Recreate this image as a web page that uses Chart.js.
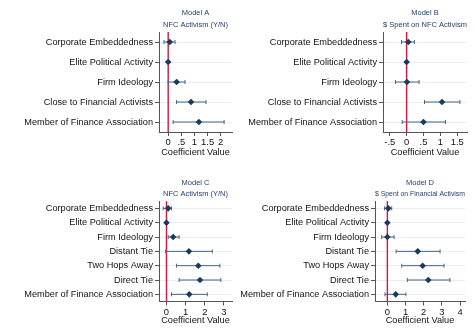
<!DOCTYPE html>
<html>
<head>
<meta charset="utf-8">
<script src="https://cdn.jsdelivr.net/npm/chart.js@4.4.0/dist/chart.umd.min.js"></script>
<style>
  html, body { margin: 0; padding: 0; background: #fff; }
  #wrap { position: relative; width: 474px; height: 335px; overflow: hidden; }
  canvas { position: absolute; }
</style>
</head>
<body>
<div id="wrap">
  <canvas id="chartA" width="237" height="167" style="left:0;top:0"></canvas>
  <canvas id="chartB" width="237" height="167" style="left:237px;top:0"></canvas>
  <canvas id="chartC" width="237" height="168" style="left:0;top:167px"></canvas>
  <canvas id="chartD" width="237" height="168" style="left:237px;top:167px"></canvas>
</div>
<script>
// categories
const catsTop = ['Corporate Embeddedness', 'Elite Political Activity', 'Firm Ideology',
  'Close to Financial Activists', 'Member of Finance Association'];
const catsBottom = ['Corporate Embeddedness', 'Elite Political Activity', 'Firm Ideology',
  'Distant Tie', 'Two Hops Away', 'Direct Tie', 'Member of Finance Association'];

// Model A - NFC Activism (Y/N)
const coefA = [0.06, 0.00, 0.32, 0.87, 1.17];
const loA   = [-0.16, -0.03, 0.00, 0.32, 0.19];
const hiA   = [0.26, 0.03, 0.64, 1.44, 2.13];

// Model B - $ Spent on NFC Activism
const coefB = [0.05, 0.00, 0.01, 1.05, 0.50];
const loB   = [-0.15, -0.03, -0.33, 0.53, -0.13];
const hiB   = [0.23, 0.03, 0.37, 1.58, 1.15];

// Model C - NFC Activism (Y/N)
const coefC = [0.09, 0.00, 0.35, 1.17, 1.66, 1.75, 1.19];
const loC   = [-0.17, -0.03, 0.09, -0.04, 0.52, 0.66, 0.26];
const hiC   = [0.26, 0.03, 0.66, 2.39, 2.79, 2.84, 2.13];

// Model D - $ Spent on Financial Activism
const coefD = [0.05, 0.00, 0.00, 1.67, 1.94, 2.25, 0.46];
const loD   = [-0.16, -0.03, -0.31, 0.48, 0.79, 1.10, -0.13];
const hiD   = [0.24, 0.03, 0.37, 2.90, 3.12, 3.44, 1.02];

// x tick values and labels
const ticksA = [0, 0.5, 1, 1.5, 2];
const tickLabelsA = ['0', '.5', '1', '1.5', '2'];
const ticksB = [-0.5, 0, 0.5, 1, 1.5];
const tickLabelsB = ['-.5', '0', '.5', '1', '1.5'];
const ticksC = [0, 1, 2, 3];
const tickLabelsC = ['0', '1', '2', '3'];
const ticksD = [0, 1, 2, 3, 4];
const tickLabelsD = ['0', '1', '2', '3', '4'];

const FONT = "'Liberation Sans', Arial, Helvetica, sans-serif";
const MARK = '#1b3a5c';
const CI_COLOR = '#48647f';
const TITLE_COLOR = '#2a4068';

// red reference line at x = 0
const zeroLine = {
  id: 'zeroLine',
  beforeDatasetsDraw(chart) {
    const { ctx, chartArea, scales: { x } } = chart;
    const px = x.getPixelForValue(0);
    ctx.save();
    ctx.strokeStyle = '#d4163e';
    ctx.lineWidth = 1.4;
    ctx.beginPath();
    ctx.moveTo(px, chartArea.top);
    ctx.lineTo(px, chartArea.bottom);
    ctx.stroke();
    ctx.restore();
  }
};

function makeChart(id, opts) {
  const { cats, coef, lo, hi, min, max, ticks, tickLabels, title, subtitle, lay } = opts;

  const ciSets = cats.map((c, i) => ({
    data: [{ x: lo[i], y: c }, { x: hi[i], y: c }],
    showLine: true,
    borderColor: CI_COLOR,
    borderWidth: 1,
    pointStyle: 'line',
    rotation: 90,
    pointRadius: 2,
    pointHoverRadius: 2,
    pointBorderColor: CI_COLOR,
    pointBorderWidth: 1,
    order: 2
  }));

  const pointSet = {
    data: cats.map((c, i) => ({ x: coef[i], y: c })),
    pointStyle: 'rectRot',
    pointRadius: 3.3,
    pointHoverRadius: 3.3,
    backgroundColor: MARK,
    borderColor: MARK,
    borderWidth: 0,
    order: 1
  };

  return new Chart(document.getElementById(id), {
    type: 'scatter',
    data: { datasets: [pointSet, ...ciSets] },
    plugins: [zeroLine],
    options: {
      responsive: false,
      animation: false,
      layout: { padding: { left: 0, right: lay.padRight, top: 0, bottom: 0 } },
      plugins: {
        legend: { display: false },
        tooltip: { enabled: false },
        title: {
          display: true, text: title, fullSize: false, color: TITLE_COLOR,
          font: { family: FONT, size: 7.5, weight: 'normal' },
          padding: { top: lay.t1, bottom: lay.b1 }
        },
        subtitle: {
          display: true, text: subtitle, fullSize: false, color: TITLE_COLOR,
          font: { family: FONT, size: 7.5, weight: 'normal' },
          padding: { top: 0, bottom: lay.b2 }
        }
      },
      scales: {
        x: {
          type: 'linear', min: min, max: max,
          afterBuildTicks: s => { s.ticks = ticks.map(v => ({ value: v })); },
          ticks: {
            callback: v => tickLabels[ticks.indexOf(v)],
            color: '#111', font: { family: FONT, size: 9.4 },
            padding: 1, maxRotation: 0, autoSkip: false
          },
          grid: { drawOnChartArea: false, drawTicks: true, tickLength: 4, tickColor: '#555' },
          border: { color: '#555', width: 1 },
          title: {
            display: true, text: 'Coefficient Value', color: '#111',
            font: { family: FONT, size: 9.2 },
            padding: { top: 0, bottom: lay.titleBottom }
          },
          afterFit: s => { s.height = lay.xh; }
        },
        y: {
          type: 'category', labels: cats, offset: true,
          grid: { offset: false, color: '#eaeef2', lineWidth: 1, drawTicks: true, tickLength: 4, tickColor: '#555' },
          border: { color: '#555', width: 1 },
          ticks: { color: '#111', font: { family: FONT, size: 9.2 }, padding: 2, autoSkip: false },
          afterFit: s => { s.width = lay.yw; }
        }
      }
    }
  });
}

makeChart('chartA', {
  cats: catsTop, coef: coefA, lo: loA, hi: hiA, min: -0.35, max: 2.43,
  ticks: ticksA, tickLabels: tickLabelsA,
  title: 'Model A', subtitle: 'NFC Activism (Y/N)',
  lay: { padRight: 5, yw: 159, xh: 35, t1: 8.5, b1: 3, b2: 2.5, titleBottom: 9.5 }
});
makeChart('chartB', {
  cats: catsTop, coef: coefB, lo: loB, hi: hiB, min: -0.70, max: 1.79,
  ticks: ticksB, tickLabels: tickLabelsB,
  title: 'Model B', subtitle: '$ Spent on NFC Activism',
  lay: { padRight: 7, yw: 146, xh: 35, t1: 8.5, b1: 3, b2: 2.5, titleBottom: 9.5 }
});
makeChart('chartC', {
  cats: catsBottom, coef: coefC, lo: loC, hi: hiC, min: -0.39, max: 3.42,
  ticks: ticksC, tickLabels: tickLabelsC,
  title: 'Model C', subtitle: 'NFC Activism (Y/N)',
  lay: { padRight: 5, yw: 159, xh: 33.5, t1: 11.8, b1: 2, b2: 2.4, titleBottom: 9.5 }
});
makeChart('chartD', {
  cats: catsBottom, coef: coefD, lo: loD, hi: hiD, min: -0.68, max: 4.27,
  ticks: ticksD, tickLabels: tickLabelsD,
  title: 'Model D', subtitle: '$ Spent on Financial Activism',
  lay: { padRight: 9, yw: 138, xh: 33.5, t1: 11.8, b1: 2, b2: 2.4, titleBottom: 9.5 }
});
</script>
</body>
</html>
